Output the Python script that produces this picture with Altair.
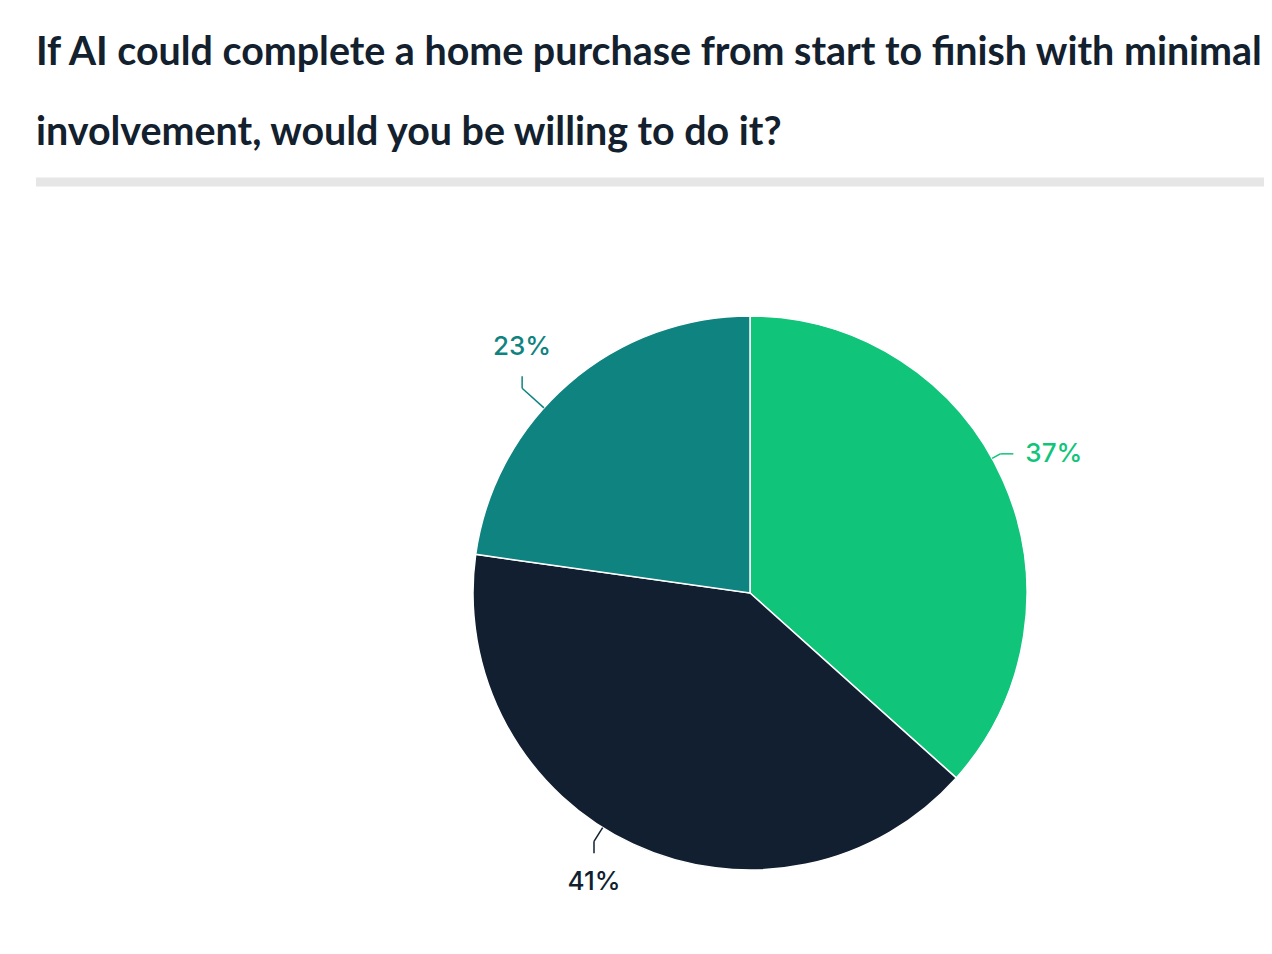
import altair as alt
import pandas as pd

# ---- data ----
categories = ["Yes", "No", "Not sure"]
values = [37, 41, 23]
labels = ["37%", "41%", "23%"]
colors = ["#10c47a", "#111f30", "#0f8380"]
title_lines = [
    "If AI could complete a home purchase from start to finish with minimal human",
    "involvement, would you be willing to do it?",
]

df = pd.DataFrame({"cat": categories, "value": values, "label": labels, "idx": list(range(len(values)))})

# ---- layout constants (view coordinates) ----
W, H = 1256, 938
CX, CY, R = 742, 585, 277
D = 30          # label distance from the pie edge
TW = 57         # approx label text width
color_scale = alt.Scale(domain=categories, range=colors)

base = alt.Chart(df)

pie = base.mark_arc(stroke="white", strokeWidth=1.5).encode(
    theta=alt.Theta("value:Q", stack=True),
    color=alt.Color("cat:N", scale=color_scale, legend=None),
    order=alt.Order("idx:Q"),
    x=alt.value(CX),
    y=alt.value(CY),
    radius=alt.value(R),
)

geo = base.transform_joinaggregate(total="sum(value)").transform_window(
    cum="sum(value)", sort=[alt.SortField("idx")], frame=[None, 0]
).transform_calculate(
    m="(datum.cum - datum.value/2)/datum.total*2*PI",
    s="sin(datum.m)",
    c="cos(datum.m)",
    ax=f"{CX}+{R + D}*datum.s",
    ay=f"{CY}-{R + D}*datum.c",
    lx=f"datum.s>=0 ? datum.ax+{TW / 2}-5 : datum.ax-{TW / 2}+2",
    ly="datum.c>0 ? datum.ay-14 : datum.ay+11",
    hz="abs(datum.s)>abs(datum.c)",
    sx="datum.s>=0 ? 1 : -1",
    sy="datum.c>0 ? 1 : -1",
    Lx=f"datum.hz ? datum.lx - datum.sx*({TW / 2}+12) : datum.lx",
    Ly="datum.hz ? datum.ly : datum.ly + datum.sy*29",
    Bx="datum.hz ? datum.Lx - datum.sx*13 : datum.Lx",
    By="datum.hz ? datum.Ly : datum.Ly + datum.sy*12",
    dd=f"sqrt(pow(datum.Bx-{CX},2)+pow(datum.By-{CY},2))",
    Px=f"{CX}+{R}*(datum.Bx-{CX})/datum.dd",
    Py=f"{CY}+{R}*(datum.By-{CY})/datum.dd",
)

seg1 = geo.mark_rule(strokeWidth=1.5).encode(
    x=alt.X("Lx:Q", scale=None), y=alt.Y("Ly:Q", scale=None),
    x2="Bx:Q", y2="By:Q",
    color=alt.Color("cat:N", scale=color_scale, legend=None),
)
seg2 = geo.mark_rule(strokeWidth=1.5).encode(
    x=alt.X("Bx:Q", scale=None), y=alt.Y("By:Q", scale=None),
    x2="Px:Q", y2="Py:Q",
    color=alt.Color("cat:N", scale=color_scale, legend=None),
)
text = geo.mark_text(font="Inter", fontSize=26, fontWeight=500, align="center", baseline="middle").encode(
    x=alt.X("lx:Q", scale=None), y=alt.Y("ly:Q", scale=None),
    text="label:N",
    color=alt.Color("cat:N", scale=color_scale, legend=None),
)

bar = alt.Chart(pd.DataFrame({"a": [0]})).mark_rule(color="#e6e6e6", strokeWidth=9).encode(
    x=alt.value(28), x2=alt.value(W), y=alt.value(174)
)

chart = alt.layer(bar, pie, seg1, seg2, text).properties(
    width=W, height=H,
    autosize=alt.AutoSizeParams(type="none"),
    padding=0,
    title=alt.Title(
        title_lines, anchor="start", frame="group", orient="top", offset=0,
        baseline="alphabetic", dx=28, dy=176, lineHeight=80,
        font="Lato", fontSize=39.4, fontWeight="bold", color="#13202e",
    ),
).configure_view(stroke=None)

chart.save("out.html", embed_options={"renderer": "svg", "actions": False})
